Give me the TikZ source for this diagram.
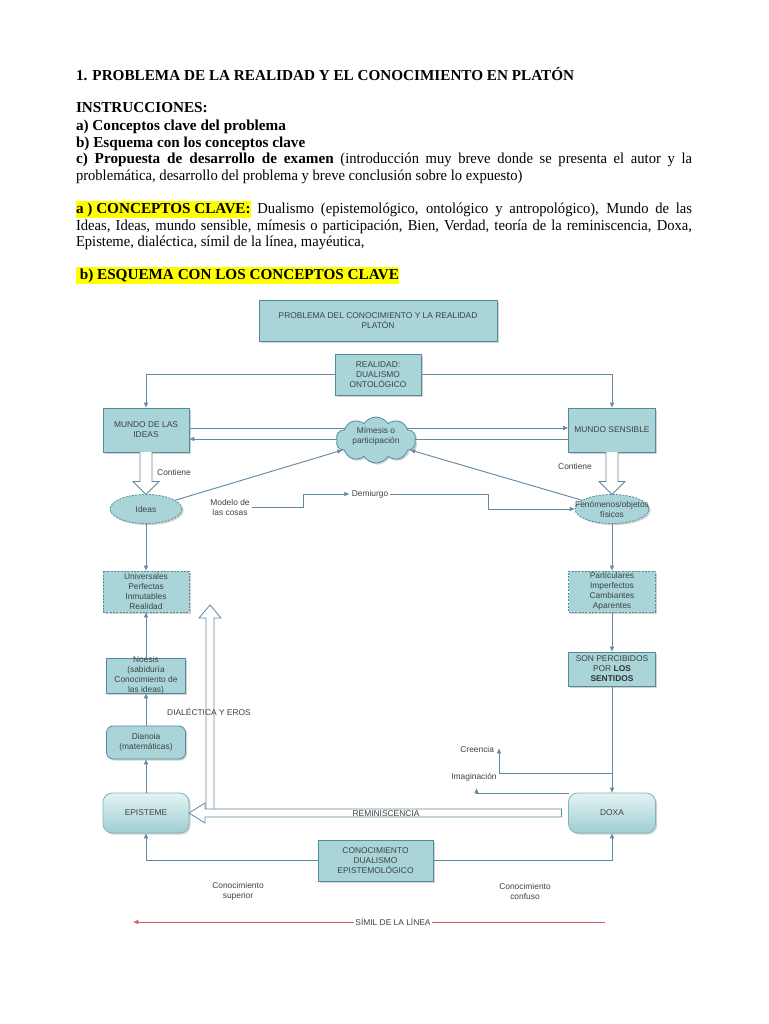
\documentclass[tikz,border=0pt]{standalone}
\usepackage{fontspec}
\setmainfont{Liberation Serif}[FakeStretch=0.96, BoldFeatures={FakeStretch=1.0}]
\setsansfont{Liberation Sans}
\usetikzlibrary{shapes.geometric,shapes.symbols,shadows,arrows.meta,calc}
\definecolor{boxfill}{RGB}{169,213,216}
\definecolor{boxdraw}{RGB}{84,138,156}
\definecolor{linecol}{RGB}{100,136,160}
\definecolor{dtext}{RGB}{62,66,70}
\definecolor{hlyellow}{RGB}{255,255,0}
\definecolor{simred}{RGB}{205,95,95}
\newcommand\hlt[1]{{\setlength{\fboxsep}{0pt}\colorbox{hlyellow}{\strut #1}}}
\begin{document}
\begin{tikzpicture}[x=0.75pt,y=-0.75pt,
  every node/.style={inner sep=0pt, outer sep=0pt},
  body/.style={anchor=base west, font=\fontsize{11.4}{12.75}\selectfont},
  dtxt/.style={font=\sffamily\fontsize{6.3}{7.5}\selectfont, text=dtext, align=center},
  sz/.style 2 args={minimum width=#1*0.75pt, minimum height=#2*0.75pt},
  box/.style={draw=boxdraw, fill=boxfill, line width=0.6pt,
    drop shadow={shadow xshift=1.2pt, shadow yshift=-1.2pt, opacity=0.35}, dtxt},
  dbox/.style={box, dash pattern=on 1.5pt off 1pt},
  rbox/.style={box, rounded corners=5pt},
  gbox/.style={box, draw={rgb,255:red,130;green,180;blue,190}, rounded corners=7pt,
    top color={rgb,255:red,228;green,243;blue,243}, bottom color={rgb,255:red,158;green,206;blue,210}},
  link/.style={draw=linecol, line width=0.7pt, -{Latex[length=4pt,width=3.5pt]}},
  hollow/.style={draw=linecol, line width=0.6pt, fill=white},
]
\fill[white] (0,0) rectangle (768,1024);
\useasboundingbox (0,0) rectangle (768,1024);

% ---------- text ----------
\node[body] (t1) at (76,80) {\bfseries 1. PROBLEMA DE LA REALIDAD Y EL CONOCIMIENTO EN PLATÓN};
\node[body] (t2) at (76,113) {\bfseries INSTRUCCIONES:};
\node[body] (t3) at (76,130) {\bfseries a) Conceptos clave del problema};
\node[body] (t4) at (76,147) {\bfseries b) Esquema con los conceptos clave};
\node[body] (t5) at (76,163) {\hbox to 462pt{\textbf{c) Propuesta de desarrollo de examen} (introducción muy breve donde se presenta el autor y la}};
\node[body] (t6) at (76,180) {problemática, desarrollo del problema y breve conclusión sobre lo expuesto)};
\node[body] (t7) at (76,213) {\hbox to 462pt{\hlt{\textbf{a ) CONCEPTOS CLAVE:}} Dualismo (epistemológico, ontológico y antropológico), Mundo de las}};
\node[body] (t8) at (76,230) {\hbox to 462pt{Ideas, Ideas, mundo sensible, mímesis o participación, Bien, Verdad, teoría de la reminiscencia, Doxa,}};
\node[body] (t9) at (76,246) {Episteme, dialéctica, símil de la línea, mayéutica,};
\node[body] (t10) at (76,279) {\hlt{\textbf{\ b) ESQUEMA CON LOS CONCEPTOS CLAVE}}};

% ---------- diagram nodes ----------
\node[box, sz={238}{41}] (prob) at (378,320.5) {PROBLEMA DEL CONOCIMIENTO Y LA REALIDAD\\PLATÓN};
\node[box, sz={86}{41}] (real) at (378,374.5) {REALIDAD:\\DUALISMO\\ONTOLÓGICO};
\node[box, sz={86}{44}] (mdi) at (146,430) {MUNDO DE LAS\\IDEAS};
\node[box, sz={87}{44}] (ms) at (612,430) {MUNDO SENSIBLE};

\draw[link] (real.west) -| (mdi.north);
\draw[link] (real.east) -| (ms.north);
\draw[link] ([yshift=1.5pt]mdi.east) -- ([yshift=1.5pt]ms.west);
\draw[link] ([yshift=-6.75pt]ms.west) -- ([yshift=-6.75pt]mdi.east);

\node[ellipse, dbox, sz={72}{29}] (ideas) at (146,509) {Ideas};
\node[ellipse, dbox, sz={74}{29}] (fen) at (612,509) {};
\node[dtxt] (fenT) at (612,509) {Fenómenos/objetos\\físicos};

\node[cloud, cloud puffs=10, cloud puff arc=115, aspect=1.8, box, sz={80}{46}] (cloud) at (376,440) {};
\node[dtxt] (cloudT) at (376,436) {Mímesis o\\participación};

\draw[link] (ideas) -- (cloud);
\draw[link] (fen) -- (cloud);

% hollow arrows "Contiene"
\draw[hollow] ($(mdi.south)+(-6,0)$) -- ($(ideas.north)+(-6,-13)$) -- ($(ideas.north)+(-13,-13)$) -- (ideas.north)
  -- ($(ideas.north)+(13,-13)$) -- ($(ideas.north)+(6,-13)$) -- ($(mdi.south)+(6,0)$);
\draw[hollow] ($(ms.south)+(-6,0)$) -- ($(fen.north)+(-6,-13)$) -- ($(fen.north)+(-13,-13)$) -- (fen.north)
  -- ($(fen.north)+(13,-13)$) -- ($(fen.north)+(6,-13)$) -- ($(ms.south)+(6,0)$);
\node[dtxt] (cont1) at (174,472) {Contiene};
\node[dtxt] (cont2) at (575,466) {Contiene};

% Modelo / Demiurgo
\node[dtxt] (modelo) at (230,507) {Modelo de\\las cosas};
\node[dtxt] (demi) at (370,494) {Demiurgo};
\draw[link] ([xshift=1.5pt]modelo.east) -- ++(52,0) |- ([xshift=-1.5pt]demi.west);
\draw[link] ([xshift=1.5pt]demi.east) -- ++(98,0) |- (fen.west);

% left column
\node[dbox, sz={86}{41}] (univ) at (146,591.5) {Universales\\Perfectas\\Inmutables\\Realidad};
\node[box, sz={79}{35}] (noesis) at (146,675.5) {};
\node[dtxt] (noesisT) at (146,675) {Noesis\\(sabiduría\\Conocimiento de\\las ideas)};
\node[rbox, sz={79}{33}] (dian) at (146,742.5) {Dianoia\\(matemáticas)};
\node[gbox, sz={86}{40}] (epis) at (146,813) {EPISTEME};

\draw[link] (ideas.south) -- (univ.north);
\draw[link] (noesis.north) -- (univ.south);
\draw[link] (dian.north) -- (noesis.south);
\draw[link] (epis.north) -- (dian.south);

% right column
\node[dbox, sz={87}{41}] (part) at (612,591.5) {Particulares\\Imperfectos\\Cambiantes\\Aparentes};
\node[box, sz={87}{34}] (sonp) at (612,669) {SON PERCIBIDOS\\POR {\color{black!80}\bfseries LOS}\\{\color{black!80}\bfseries SENTIDOS}};
\node[gbox, sz={87}{40}] (doxa) at (612,813) {DOXA};

\draw[link] (fen.south) -- (part.north);
\draw[link] (part.south) -- (sonp.north);
\draw[link] (sonp.south) -- (doxa.north);

\coordinate (br) at (612,773);
\node[dtxt, anchor=east] (cree) at (494,749) {Creencia};
\draw[link] (br) -| ($(cree.east)+(5,-1)$);
\node[dtxt] (imag) at (474,777) {Imaginación};
\draw[link] (doxa.north west) -- ++(-92,0) -- ++(0,-5);

% Dialectica y Eros (hollow up arrow)
\coordinate (dtip) at (210,605);
\coordinate (dbase) at (210,812);
\draw[hollow] ($(dbase)+(-4,0)$) -- ($(dtip)+(-4,13)$) -- ($(dtip)+(-11,13)$) -- (dtip)
  -- ($(dtip)+(11,13)$) -- ($(dtip)+(4,13)$) -- ($(dbase)+(4,0)$);
\node[dtxt] (dial) at (209,712) {DIALÉCTICA Y EROS};

% Reminiscencia (hollow left arrow)
\draw[hollow] ($(doxa.west)+(-7,-4)$) -- ($(epis.east)+(16,-4)$) -- ($(epis.east)+(16,-10)$) -- (epis.east)
  -- ($(epis.east)+(16,10)$) -- ($(epis.east)+(16,4)$) -- ($(doxa.west)+(-7,4)$) -- cycle;
\node[dtxt] (remi) at (386,814) {REMINISCENCIA};

% Conocimiento
\node[box, sz={115}{41}] (conoc) at (375.5,860.5) {CONOCIMIENTO\\DUALISMO\\EPISTEMOLÓGICO};
\draw[link] (conoc.west) -| (epis.south);
\draw[link] (conoc.east) -| (doxa.south);
\node[dtxt] (csup) at (238,891.5) {Conocimiento\\superior};
\node[dtxt] (cconf) at (525,891.5) {Conocimiento\\confuso};

% Simil de la linea
\coordinate (simR) at (605,922);
\coordinate (simL) at (133,922);
\draw[draw=simred, line width=0.6pt, -{Latex[length=4pt,width=3.5pt]}] (simR) -- (simL);
\node[dtxt, fill=white, inner sep=1pt] (simil) at (393,922) {SÍMIL DE LA LÍNEA};
\end{tikzpicture}
\end{document}
